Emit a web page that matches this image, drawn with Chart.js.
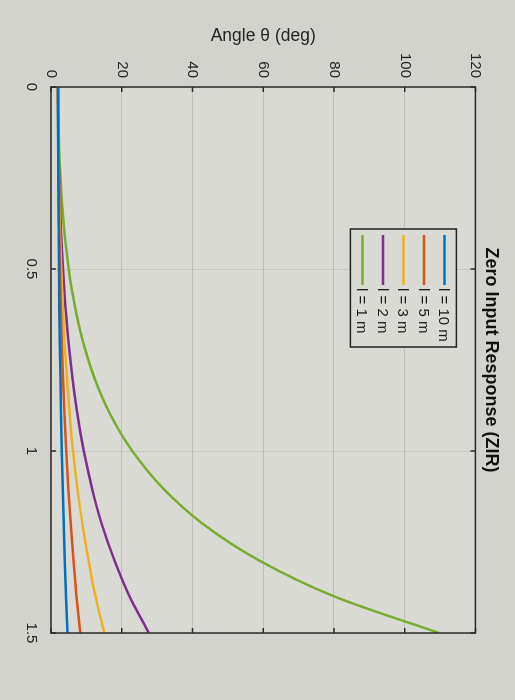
<!DOCTYPE html>
<html>
<head>
<meta charset="utf-8">
<title>Zero Input Response (ZIR)</title>
<script src="https://cdn.jsdelivr.net/npm/chart.js@4/dist/chart.umd.min.js"></script>
<style>
    html, body {
        margin: 0;
        padding: 0;
        width: 515px;
        height: 700px;
        overflow: hidden;
        background: #d3d3ce;
    }
    body {
        border-top: 3px solid #3a3a3a;
        box-sizing: border-box;
    }
    /* the photographed plot is turned a quarter turn clockwise */
    #wrap {
        position: absolute;
        left: 0;
        top: 0;
        width: 700px;
        height: 515px;
        transform-origin: 0 0;
        transform: translate(515px, 0) rotate(90deg);
    }
</style>
</head>
<body>
<div id="wrap">
    <canvas id="zirChart" width="700" height="515"></canvas>
</div>
<script>
// Data
const times = [0, 0.1, 0.2, 0.3, 0.4, 0.5, 0.6, 0.7, 0.8, 0.9, 1.0, 1.1, 1.2, 1.3, 1.4, 1.5];
const angleL10 = [2.00, 2.01, 2.04, 2.09, 2.16, 2.25, 2.36, 2.50, 2.66, 2.85, 3.06, 3.31, 3.59, 3.90, 4.25, 4.64];
const angleL5  = [2.00, 2.02, 2.08, 2.18, 2.32, 2.51, 2.75, 3.05, 3.39, 3.81, 4.31, 4.88, 5.55, 6.33, 7.24, 8.30];
const angleL3  = [2.00, 2.03, 2.13, 2.30, 2.55, 2.88, 3.30, 3.83, 4.49, 5.29, 6.25, 7.43, 8.87, 10.6, 12.6, 15.1];
const angleL2  = [2.00, 2.05, 2.20, 2.46, 2.84, 3.36, 4.05, 4.92, 6.05, 7.47, 9.28, 11.5, 14.3, 17.9, 22.2, 27.7];
const angleL1  = [2.00, 2.10, 2.40, 2.95, 3.79, 4.99, 6.71, 9.07, 12.3, 16.8, 23.0, 31.4, 42.9, 58.7, 80.2, 109.7];
const seriesLabels = ['l = 10 m', 'l = 5 m', 'l = 3 m', 'l = 2 m', 'l = 1 m'];
const timeTicks = [0, 0.5, 1, 1.5];
const angleTicks = [0, 20, 40, 60, 80, 100, 120];

const seriesValues = [angleL10, angleL5, angleL3, angleL2, angleL1];
const seriesColors = ['#0072bd', '#d95319', '#edb120', '#7e2f8e', '#77ac30'];

const FONT = '"Liberation Sans", Arial, sans-serif';

function toPoints(values) {
    return values.map(function(v, i) {
        return { x: times[i], y: v };
    });
}

// Plot background, full box and inward ticks
const frameBox = {
    id: 'frameBox',
    beforeDraw(chart) {
        const ctx = chart.ctx;
        const a = chart.chartArea;
        ctx.save();
        ctx.fillStyle = '#d3d3ce';
        ctx.fillRect(0, 0, chart.width, chart.height);
        ctx.fillStyle = '#dadad5';
        ctx.fillRect(a.left, a.top, a.right - a.left, a.bottom - a.top);
        ctx.restore();
    },
    afterDatasetsDraw(chart) {
        const ctx = chart.ctx;
        const a = chart.chartArea;
        const xs = chart.scales.x;
        const ys = chart.scales.y;
        ctx.save();
        ctx.strokeStyle = '#2a2a2a';
        ctx.lineWidth = 1.5;
        ctx.strokeRect(a.left, a.top, a.right - a.left, a.bottom - a.top);
        ctx.beginPath();
        timeTicks.forEach(function(t) {
            const px = xs.getPixelForValue(t);
            ctx.moveTo(px, a.bottom); ctx.lineTo(px, a.bottom - 5);
            ctx.moveTo(px, a.top); ctx.lineTo(px, a.top + 5);
        });
        angleTicks.forEach(function(v) {
            const py = ys.getPixelForValue(v);
            ctx.moveTo(a.left, py); ctx.lineTo(a.left + 5, py);
            ctx.moveTo(a.right, py); ctx.lineTo(a.right - 5, py);
        });
        ctx.stroke();
        ctx.restore();
    }
};

// Boxed legend inside the plot, as in the picture
const insideLegend = {
    id: 'insideLegend',
    afterDraw(chart) {
        const ctx = chart.ctx;
        const a = chart.chartArea;
        const x0 = a.left + 142;
        const y0 = a.top + 19;
        const w = 118;
        const h = 106;
        ctx.save();
        ctx.fillStyle = '#dadad5';
        ctx.fillRect(x0, y0, w, h);
        ctx.strokeStyle = '#222';
        ctx.lineWidth = 1.5;
        ctx.strokeRect(x0, y0, w, h);
        ctx.font = '15px ' + FONT;
        ctx.textBaseline = 'middle';
        chart.data.datasets.forEach(function(ds, i) {
            const yy = y0 + 12 + i * 20.5;
            ctx.strokeStyle = ds.borderColor;
            ctx.lineWidth = 2.5;
            ctx.beginPath();
            ctx.moveTo(x0 + 6, yy);
            ctx.lineTo(x0 + 56, yy);
            ctx.stroke();
            ctx.fillStyle = '#1a1a1a';
            ctx.fillText(ds.label, x0 + 59, yy + 1);
        });
        ctx.restore();
    }
};

document.addEventListener('DOMContentLoaded', function() {
    const ctx = document.getElementById('zirChart').getContext('2d');
    new Chart(ctx, {
        type: 'line',
        data: {
            datasets: seriesValues.map(function(vals, i) {
                return {
                    label: seriesLabels[i],
                    data: toPoints(vals),
                    borderColor: seriesColors[i],
                    borderWidth: 2.5,
                    pointRadius: 0,
                    fill: false,
                    cubicInterpolationMode: 'monotone'
                };
            })
        },
        options: {
            responsive: false,
            animation: false,
            devicePixelRatio: 1,
            layout: {
                padding: { left: 0, right: 67, top: 0, bottom: 0 }
            },
            plugins: {
                legend: { display: false },
                tooltip: { enabled: false },
                title: {
                    display: true,
                    text: 'Zero Input Response (ZIR)',
                    fullSize: false,
                    color: '#111',
                    font: { family: FONT, size: 18, weight: 'bold' },
                    padding: { top: 13, bottom: 5 }
                }
            },
            scales: {
                x: {
                    type: 'linear',
                    min: 0,
                    max: 1.5,
                    afterFit: function(scale) { scale.height = 51; },
                    afterBuildTicks: function(scale) {
                        scale.ticks = timeTicks.map(function(v) { return { value: v }; });
                    },
                    ticks: {
                        padding: 11,
                        color: '#222',
                        maxRotation: 0,
                        autoSkip: false,
                        font: { family: FONT, size: 15 },
                        callback: function(v) { return String(v); }
                    },
                    grid: { color: 'rgba(0,0,0,0.09)', drawTicks: false },
                    border: { display: false }
                },
                y: {
                    type: 'linear',
                    min: 0,
                    max: 120,
                    afterFit: function(scale) { scale.width = 87; },
                    afterBuildTicks: function(scale) {
                        scale.ticks = angleTicks.map(function(v) { return { value: v }; });
                    },
                    ticks: {
                        padding: 9,
                        color: '#222',
                        font: { family: FONT, size: 15 }
                    },
                    grid: { color: 'rgba(0,0,0,0.13)', drawTicks: false },
                    border: { display: false },
                    title: {
                        display: true,
                        text: 'Angle θ (deg)',
                        color: '#222',
                        font: { family: FONT, size: 17.5 },
                        padding: { top: 26, bottom: 0 }
                    }
                }
            }
        },
        plugins: [frameBox, insideLegend]
    });
});
</script>
</body>
</html>
